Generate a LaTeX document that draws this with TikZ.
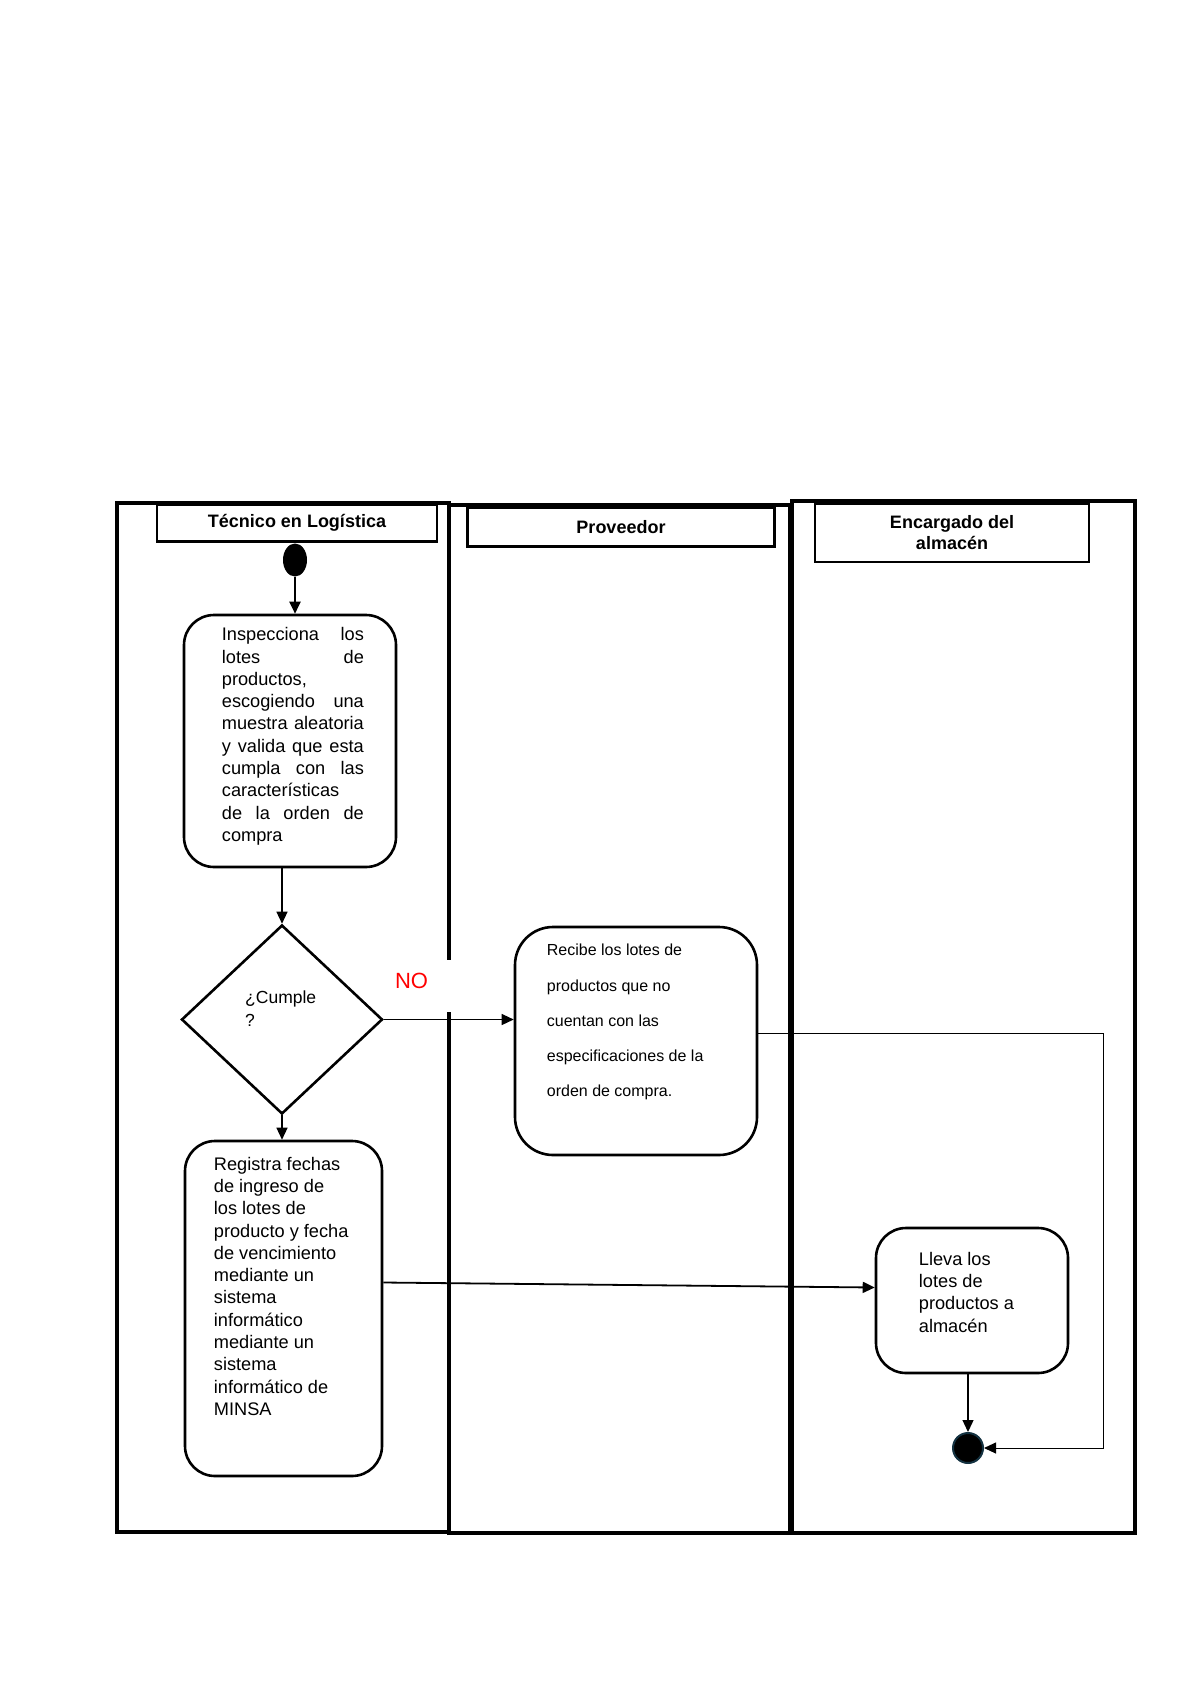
\documentclass[tikz,border=0pt]{standalone}
\usepackage{fontspec}
\setmainfont{Liberation Sans}
\usetikzlibrary{shapes.geometric, arrows.meta}
\definecolor{nored}{RGB}{255, 0, 0}
\definecolor{endring}{RGB}{20, 50, 65}
\newcommand{\jl}[1]{\makebox[142pt][s]{#1}}

\begin{document}
\begin{tikzpicture}[x=1pt, y=-1pt,
  lane/.style={draw=black, line width=3.5pt},
  header/.style={draw=black, line width=2.7pt, inner sep=0pt, align=center, font=\fontsize{18}{21}\selectfont\bfseries},
  activity/.style={draw=black, line width=2.6pt, rounded corners=30pt, inner sep=0pt},
  boxtext/.style={inner sep=0pt, anchor=north west, align=left, font=\fontsize{18.2}{22.3}\selectfont},
  arr/.style={-{Triangle[length=12pt, width=11pt]}, line width=1.3pt}]
  \useasboundingbox (0, 0) rectangle (1200, 1696);
  % swimlanes
  \draw[lane] (117, 503) rectangle (449, 1532);
  \draw[lane] (449, 505) rectangle (790, 1533);
  \draw[lane] (792, 501) rectangle (1135, 1533);
  \node[header, minimum width=280pt, minimum height=37pt] (tecnico) at (297, 523) {Técnico en Logística};
  \node[header, minimum width=307pt, minimum height=39pt] (proveedor) at (621, 527) {Proveedor};
  \node[header, minimum width=274pt, minimum height=58pt] (encargado) at (952, 533) {Encargado del\\almacén};

  % activities
  \node[ellipse, fill=black, minimum width=24pt, minimum height=33pt, inner sep=0pt] (inicio) at (295, 560) {};
  \node[activity, minimum width=212pt, minimum height=252pt] (inspecciona) at (290, 741) {};
  \node[boxtext] (inspecciona-txt) at ([xshift=39pt, yshift=-13.7pt]inspecciona.north west)
    {\jl{Inspecciona los}\\ \jl{lotes de}\\ productos,\\ \jl{escogiendo una}\\ \jl{muestra aleatoria}\\
     \jl{y valida que esta}\\ \jl{cumpla con las}\\ características\\ \jl{de la orden de}\\ compra};
  \node[diamond, draw=black, line width=2.6pt, minimum width=201pt, minimum height=189pt, inner sep=0pt] (cumple) at (282, 1019.5) {};
  \node[boxtext, font=\fontsize{17.5}{23}\selectfont] (cumple-txt) at (245, 991) {¿Cumple\\ ?};
  \node[activity, minimum width=197pt, minimum height=335pt] (registra) at (283.5, 1308.5) {};
  \node[boxtext] (registra-txt) at ([xshift=30pt, yshift=-17pt]registra.north west)
    {Registra fechas\\ de ingreso de\\ los lotes de\\ producto y fecha\\ de vencimiento\\ mediante un\\
     sistema\\ informático\\ mediante un\\ sistema\\ informático de\\ MINSA};
  \node[activity, rounded corners=38pt, minimum width=242pt, minimum height=228pt] (recibe) at (636, 1041) {};
  \node[boxtext, font=\fontsize{16}{35.25}\selectfont] (recibe-txt) at ([xshift=33pt, yshift=-18.3pt]recibe.north west)
    {Recibe los lotes de\\ productos que no\\ cuentan con las\\ especificaciones de la\\ orden de compra.};
  \node[activity, minimum width=192pt, minimum height=145pt] (lleva) at (972, 1300.5) {};
  \node[boxtext] (lleva-txt) at ([xshift=44pt, yshift=-25pt]lleva.north west) {Lleva los\\ lotes de\\ productos a\\ almacén};
  \node[circle, fill=black, draw=endring, line width=2pt, minimum size=30pt, inner sep=0pt] (fin) at (968, 1448) {};
  \node[fill=white, text=nored, font=\fontsize{22}{22}\selectfont, minimum width=68pt, minimum height=52pt,
    text width=54pt, inner xsep=7pt, text depth=10pt, align=left] (no) at (422, 986) {NO};

  % flows
  \draw[arr, line width=2.4pt] (inicio) -- (inicio |- inspecciona.north);
  \draw[arr] (cumple.north |- inspecciona.south) -- (cumple.north);
  \draw[arr] (cumple.south) -- (cumple.south |- registra.north);
  \draw[arr] (cumple.east) -- (cumple.east -| recibe.west);
  \draw[arr, line width=1.8pt] ([yshift=26pt]registra.east) -- ([yshift=13pt]lleva.west);
  \draw[arr] (fin.north |- lleva.south) -- (fin.north);
  \coordinate (vuelta) at (1103, 1033);
  \draw[arr, line width=1pt] ([yshift=8pt]recibe.east) -- (vuelta) -- (vuelta |- fin) -- (fin);
\end{tikzpicture}
\end{document}
